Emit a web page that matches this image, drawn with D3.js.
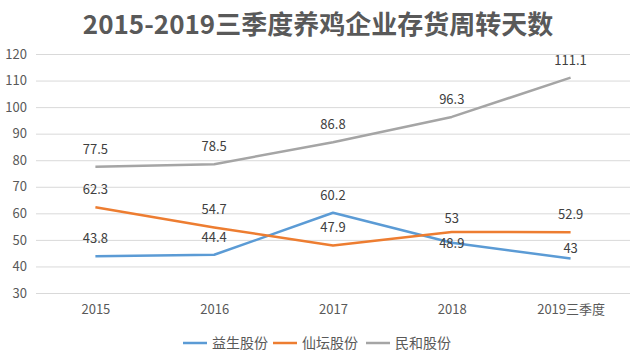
<!DOCTYPE html>
<meta charset="utf-8">
<style>
body { margin: 0; background: #fff; }
text { font-family: "Noto Sans CJK SC", "Noto Sans", sans-serif; fill: #595959; }
.title { font-weight: bold; font-size: 26px; }
.tick text { font-size: 13px; }
.lbl { font-size: 13px; fill: #404040; }
.legend text { font-size: 14px; }
</style>
<svg width="640" height="359"></svg>
<script src="https://cdn.jsdelivr.net/npm/d3@7"></script>
<script>

var categories = ["2015", "2016", "2017", "2018", "2019三季度"];
var seriesNames = ["益生股份", "仙坛股份", "民和股份"];
var yisheng = [43.8, 44.4, 60.2, 48.9, 43];
var xiantan = [62.3, 54.7, 47.9, 53, 52.9];
var minhe = [77.5, 78.5, 86.8, 96.3, 111.1];
var yTicks = [30, 40, 50, 60, 70, 80, 90, 100, 110, 120];

var colors = ["#5b9bd5", "#ed7d31", "#a5a5a5"];
// a few labels sit closer to their point than the rest
var labelShift = { "0-3": 18, "0-4": 8, "1-3": 4 };

var svg = d3.select("svg"),
    plotLeft = 36, plotRight = 630, plotTop = 54, plotBottom = 293;

var series = [yisheng, xiantan, minhe];

var x = d3.scalePoint().domain(categories).range([plotLeft, plotRight]).padding(0.5);
var y = d3.scaleLinear().domain([30, 120]).range([plotBottom, plotTop]);

svg.append("text")
    .attr("class", "title")
    .attr("x", 318)
    .attr("y", 34)
    .attr("text-anchor", "middle")
    .text("2015-2019三季度养鸡企业存货周转天数");

// gridlines + y labels
var yAxis = svg.append("g")
    .attr("transform", "translate(" + plotLeft + ",0)")
    .call(d3.axisLeft(y).tickValues(yTicks).tickSize(-(plotRight - plotLeft)).tickPadding(9));
yAxis.select(".domain").remove();
yAxis.selectAll(".tick line").attr("stroke", "#d9d9d9");

var xAxis = svg.append("g")
    .attr("transform", "translate(0," + plotBottom + ")")
    .call(d3.axisBottom(x).tickSize(0).tickPadding(12));
xAxis.select(".domain").remove();

var line = d3.line()
    .x(function(d, i) { return x(categories[i]); })
    .y(function(d) { return y(d); });

series.forEach(function(vals, s) {
  svg.append("path")
      .datum(vals)
      .attr("fill", "none")
      .attr("stroke", colors[s])
      .attr("stroke-width", 2.5)
      .attr("stroke-linejoin", "round")
      .attr("d", line);
});

series.forEach(function(vals, s) {
  svg.selectAll(".lbl-" + s)
    .data(vals)
    .enter().append("text")
      .attr("class", "lbl")
      .attr("text-anchor", "middle")
      .attr("x", function(d, i) { return x(categories[i]); })
      .attr("y", function(d, i) {
        var k = s + "-" + i;
        return y(d) - 13 + (labelShift[k] || 0);
      })
      .text(function(d) { return d; });
});

// legend
var legendX = [183, 273, 366];
var legend = svg.append("g").attr("class", "legend");
seriesNames.forEach(function(name, s) {
  legend.append("line")
      .attr("x1", legendX[s]).attr("x2", legendX[s] + 24)
      .attr("y1", 343).attr("y2", 343)
      .attr("stroke", colors[s])
      .attr("stroke-width", 2.5);
  legend.append("text")
      .attr("x", legendX[s] + 29)
      .attr("y", 348)
      .text(name);
});

</script>
